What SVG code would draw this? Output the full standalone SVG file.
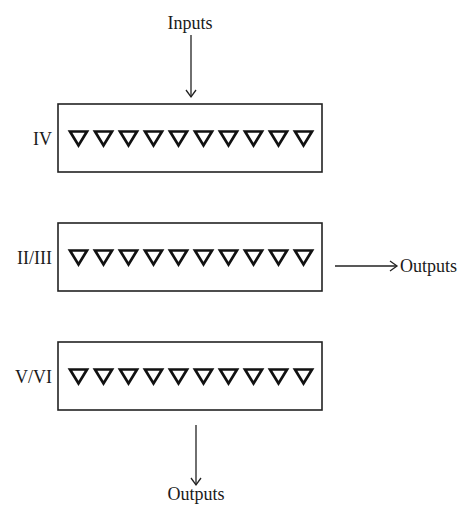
<svg xmlns="http://www.w3.org/2000/svg" width="474" height="522" viewBox="0 0 474 522">
<defs>
<style>
.box{fill:none;stroke:#222;stroke-width:1.6}
.tri{fill:#fff;stroke:#111;stroke-width:2.7;stroke-linejoin:miter}
.ln{fill:none;stroke:#222;stroke-width:1.3}
.ah{fill:none;stroke:#222;stroke-width:1.3;stroke-linejoin:miter}
text{font-family:"Liberation Serif","Times New Roman",serif;font-size:18px;fill:#1a1a1a}
</style>
<polygon id="t" class="tri" points="0,0 17,0 8.5,14"/>
<g id="row">
<use href="#t" x="0"/><use href="#t" x="25"/><use href="#t" x="50"/><use href="#t" x="75"/><use href="#t" x="100"/>
<use href="#t" x="125"/><use href="#t" x="150"/><use href="#t" x="175"/><use href="#t" x="200"/><use href="#t" x="225"/>
</g>
</defs>
<g id="layer-IV">
<rect class="box" x="58" y="104" width="264" height="68"/>
<use href="#row" x="70" y="131.5"/>
<text x="52" y="145" text-anchor="end">IV</text>
</g>
<g id="layer-II-III">
<rect class="box" x="58" y="223" width="264" height="68"/>
<use href="#row" x="70" y="250.5"/>
<text x="52" y="264" text-anchor="end">II/III</text>
</g>
<g id="layer-V-VI">
<rect class="box" x="58" y="342" width="264" height="68"/>
<use href="#row" x="70" y="369.5"/>
<text x="52" y="383" text-anchor="end">V/VI</text>
</g>
<g id="label-inputs"><text x="190" y="29" text-anchor="middle">Inputs</text></g>
<g id="label-outputs-right"><text x="400" y="272">Outputs</text></g>
<g id="label-outputs-bottom"><text x="196" y="500" text-anchor="middle">Outputs</text></g>
<g id="connectors">
<line class="ln" x1="191" y1="35" x2="191" y2="97"/>
<polyline class="ah" points="186,90 191,97 196,90"/>
<line class="ln" x1="335" y1="266" x2="397" y2="266"/>
<polyline class="ah" points="390,261 397,266 390,271"/>
<line class="ln" x1="196" y1="425" x2="196" y2="485"/>
<polyline class="ah" points="191,478 196,485 201,478"/>
</g>
</svg>
